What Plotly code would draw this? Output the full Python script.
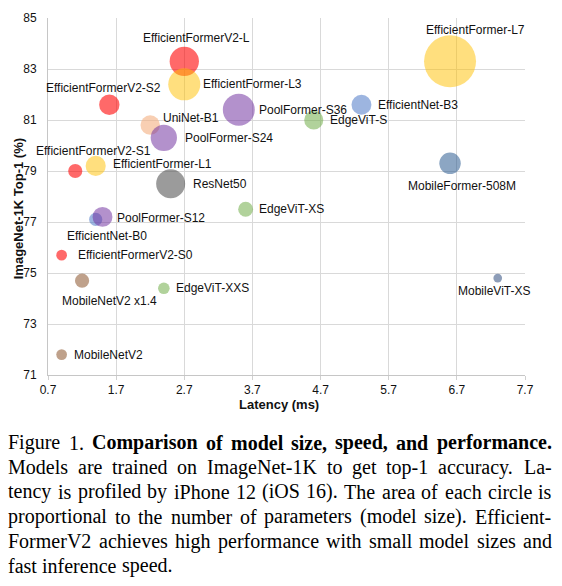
import plotly.graph_objects as go

# ---------------- data ----------------
names = [
    "EfficientFormerV2-S0", "EfficientFormerV2-S1", "EfficientFormerV2-S2", "EfficientFormerV2-L",
    "EfficientFormer-L1", "EfficientFormer-L3", "EfficientFormer-L7",
    "EfficientNet-B0", "EfficientNet-B3",
    "UniNet-B1",
    "PoolFormer-S12", "PoolFormer-S24", "PoolFormer-S36",
    "ResNet50",
    "EdgeViT-XXS", "EdgeViT-XS", "EdgeViT-S",
    "MobileFormer-508M",
    "MobileViT-XS",
    "MobileNetV2", "MobileNetV2 x1.4",
]
latency_ms = [0.9, 1.1, 1.6, 2.7,
              1.4, 2.7, 6.6,
              1.4, 5.3,
              2.2,
              1.5, 2.4, 3.5,
              2.5,
              2.4, 3.6, 4.6,
              6.6,
              7.3,
              0.9, 1.2]
top1_acc = [75.7, 79.0, 81.6, 83.3,
            79.2, 82.4, 83.3,
            77.1, 81.6,
            80.8,
            77.2, 80.3, 81.4,
            78.5,
            74.4, 77.5, 81.0,
            79.3,
            74.8,
            71.8, 74.7]
params_m = [3.5, 6.1, 12.6, 26.1,
            12.3, 31.3, 82.1,
            5.3, 12.0,
            11.5,
            12.0, 21.0, 31.0,
            25.5,
            4.1, 6.7, 11.1,
            14.0,
            2.3,
            3.5, 6.1]
family = ["V2"] * 4 + ["EF"] * 3 + ["ENet"] * 2 + ["UniNet"] + ["Pool"] * 3 + ["ResNet"] + \
         ["Edge"] * 3 + ["MFormer"] + ["MViT"] + ["MNet"] * 2

x_ticks = [0.7, 1.7, 2.7, 3.7, 4.7, 5.7, 6.7, 7.7]
x_tick_text = ["0.7", "1.7", "2.7", "3.7", "4.7", "5.7", "6.7", "7.7"]
y_ticks = [71, 73, 75, 77, 79, 81, 83, 85]
y_tick_text = ["71", "73", "75", "77", "79", "81", "83", "85"]

x_title = "Latency (ms)"
y_title = "ImageNet-1K Top-1 (%)"

caption_lines = [
    [("Figure", 0), ("1.", 0), ("Comparison", 1), ("of", 1), ("model", 1), ("size,", 1),
     ("speed,", 1), ("and", 1), ("performance.", 1)],
    [("Models", 0), ("are", 0), ("trained", 0), ("on", 0), ("ImageNet-1K", 0), ("to", 0),
     ("get", 0), ("top-1", 0), ("accuracy.", 0), ("La-", 0)],
    [("tency", 0), ("is", 0), ("profiled", 0), ("by", 0), ("iPhone", 0), ("12", 0), ("(iOS", 0),
     ("16).", 0), ("The", 0), ("area", 0), ("of", 0), ("each", 0), ("circle", 0), ("is", 0)],
    [("proportional", 0), ("to", 0), ("the", 0), ("number", 0), ("of", 0), ("parameters", 0),
     ("(model", 0), ("size).", 0), ("Efficient-", 0)],
    [("FormerV2", 0), ("achieves", 0), ("high", 0), ("performance", 0), ("with", 0), ("small", 0),
     ("model", 0), ("sizes", 0), ("and", 0)],
    [("fast", 0), ("inference", 0), ("speed.", 0)],
]

# ---------------- styles ----------------
family_order = ["V2", "EF", "ENet", "UniNet", "Pool", "ResNet", "Edge", "MFormer", "MViT", "MNet"]
family_colors = {
    "V2": "rgba(255,0,0,0.84)",
    "EF": "rgba(255,192,0,0.72)",
    "ENet": "rgba(68,114,196,0.75)",
    "UniNet": "rgba(244,177,131,0.88)",
    "Pool": "rgba(112,48,160,0.76)",
    "ResNet": "rgba(64,64,64,0.75)",
    "Edge": "rgba(112,173,71,0.78)",
    "MFormer": "rgba(37,85,140,0.75)",
    "MViT": "rgba(38,68,120,0.75)",
    "MNet": "rgba(133,76,35,0.75)",
}
# label placement: (xanchor, dx px, dy px downwards)
label_place = {
    "EfficientFormerV2-L": ("center", 12, -23),
    "EfficientFormer-L3": ("left", 19, 0),
    "EfficientFormerV2-S2": ("center", -6, -17),
    "UniNet-B1": ("left", 13, -7),
    "PoolFormer-S24": ("left", 21, 0),
    "PoolFormer-S36": ("left", 20, 0),
    "EfficientFormerV2-S1": ("center", 18, -20),
    "EfficientFormer-L1": ("left", 17, -2),
    "ResNet50": ("left", 22, 0),
    "EdgeViT-XS": ("left", 13, 0),
    "EfficientFormer-L7": ("center", 25, -31),
    "EfficientNet-B3": ("left", 17, 0),
    "EdgeViT-S": ("left", 16, 0),
    "MobileFormer-508M": ("center", 12, 23),
    "EfficientNet-B0": ("center", 11, 17),
    "PoolFormer-S12": ("left", 14, 1),
    "EfficientFormerV2-S0": ("left", 16, 0),
    "MobileNetV2 x1.4": ("center", 27, 20),
    "EdgeViT-XXS": ("left", 12, 0),
    "MobileNetV2": ("left", 12, 0),
    "MobileViT-XS": ("center", -4, 13),
}

W, H = 562, 586
PL, PR, PT, PB = 48, 37, 11, 211
PW, PH = W - PL - PR, H - PT - PB
SANS = "Liberation Sans, Arial, sans-serif"
SERIF = "Liberation Serif, Times New Roman, serif"

# area ~ params: radius(px) = sqrt(size / (2*sizeref))
SIZEREF = 1 / 16.46

fig = go.Figure()
for fam in family_order:
    idx = [i for i, f in enumerate(family) if f == fam]
    fig.add_trace(go.Scatter(
        x=[latency_ms[i] for i in idx],
        y=[top1_acc[i] for i in idx],
        mode="markers",
        marker=dict(size=[params_m[i] for i in idx], sizemode="area", sizeref=SIZEREF,
                    color=family_colors[fam], line=dict(width=0)),
        hovertext=[names[i] for i in idx],
        hoverinfo="text",
    ))

annotations = []
for i, n in enumerate(names):
    xa, dx, dy = label_place[n]
    annotations.append(dict(
        x=latency_ms[i], y=top1_acc[i], xref="x", yref="y", text=n, showarrow=False,
        xanchor=xa, yanchor="middle", xshift=dx, yshift=-dy,
        font=dict(family=SANS, size=12, color="#111111"), borderpad=0, borderwidth=0,
    ))

def px_x(px):
    return (px - PL) / PW

def px_y(py):
    return (PT + PH - py) / PH

# axis titles
annotations.append(dict(x=px_x(279), y=px_y(405), xref="paper", yref="paper", text="<b>%s</b>" % x_title,
                        showarrow=False, xanchor="center", yanchor="middle",
                        font=dict(family=SANS, size=13, color="#111111"), borderpad=0, borderwidth=0))
annotations.append(dict(x=px_x(18), y=px_y(206), xref="paper", yref="paper", text="<b>%s</b>" % y_title,
                        showarrow=False, xanchor="center", yanchor="middle", textangle=-90,
                        font=dict(family=SANS, size=13, color="#111111")))

# caption, justified word by word (Times metrics)
REG = {' ': 250, '(': 333, ')': 333, ',': 250, '-': 333, '.': 250, ':': 278,
       'A': 722, 'B': 667, 'C': 667, 'D': 722, 'E': 611, 'F': 556, 'G': 722, 'H': 722, 'I': 333,
       'J': 389, 'K': 722, 'L': 611, 'M': 889, 'N': 722, 'O': 722, 'P': 556, 'Q': 722, 'R': 667,
       'S': 556, 'T': 611, 'U': 722, 'V': 722, 'W': 944, 'X': 722, 'Y': 722, 'Z': 611,
       'a': 444, 'b': 500, 'c': 444, 'd': 500, 'e': 444, 'f': 333, 'g': 500, 'h': 500, 'i': 278,
       'j': 278, 'k': 500, 'l': 278, 'm': 778, 'n': 500, 'o': 500, 'p': 500, 'q': 500, 'r': 333,
       's': 389, 't': 278, 'u': 500, 'v': 500, 'w': 722, 'x': 500, 'y': 500, 'z': 444}
BOLD = {' ': 250, ',': 250, '.': 250, '-': 333, 'C': 722,
        'a': 500, 'b': 556, 'c': 444, 'd': 556, 'e': 444, 'f': 333, 'g': 500, 'h': 556, 'i': 278,
        'j': 333, 'k': 556, 'l': 278, 'm': 833, 'n': 556, 'o': 500, 'p': 556, 'q': 556, 'r': 444,
        's': 389, 't': 333, 'u': 556, 'v': 500, 'w': 722, 'x': 500, 'y': 500, 'z': 444}
CAP_SIZE = 20
CAP_LEFT, CAP_RIGHT = 8.3, 551.7
CAP_Y0, CAP_DY = 444, 25.1

def word_w(w, bold):
    t = BOLD if bold else REG
    return sum(t.get(c, 500) for c in w) * CAP_SIZE / 1000.0

for li, line in enumerate(caption_lines):
    widths = [word_w(w, b) for w, b in line]
    if li == len(caption_lines) - 1:
        gap = 250 * CAP_SIZE / 1000.0
    else:
        gap = (CAP_RIGHT - CAP_LEFT - sum(widths)) / (len(line) - 1)
    xpos = CAP_LEFT
    for (w, b), ww in zip(line, widths):
        annotations.append(dict(
            x=px_x(xpos), y=px_y(CAP_Y0 + li * CAP_DY), xref="paper", yref="paper",
            text=("<b>%s</b>" % w) if b else w, showarrow=False, xanchor="left", yanchor="middle",
            font=dict(family=SERIF, size=CAP_SIZE, color="#000000"), borderpad=0, borderwidth=0,
        ))
        xpos += ww + gap

fig.update_layout(
    width=W, height=H,
    margin=dict(l=PL, r=PR, t=PT, b=PB, pad=0),
    plot_bgcolor="white", paper_bgcolor="white",
    showlegend=False,
    annotations=annotations,
    xaxis=dict(range=[0.7, 7.7], tickvals=x_ticks, ticktext=x_tick_text,
               showgrid=True, gridcolor="#d9d9d9", gridwidth=1, zeroline=False,
               showline=True, linecolor="#c6c6c6", linewidth=1,
               ticks="outside", ticklen=4, tickcolor="#d0d0d0",
               tickfont=dict(family=SANS, size=12, color="#111111")),
    yaxis=dict(range=[71, 85], tickvals=y_ticks, ticktext=y_tick_text,
               showgrid=True, gridcolor="#d9d9d9", gridwidth=1, zeroline=False,
               showline=True, linecolor="#c6c6c6", linewidth=1,
               ticks="", ticklabelstandoff=8,
               tickfont=dict(family=SANS, size=12, color="#111111")),
)

fig.write_html("out.html", config={"displayModeBar": False},
               post_script="document.body.style.margin='0';document.body.style.overflow='hidden';")
